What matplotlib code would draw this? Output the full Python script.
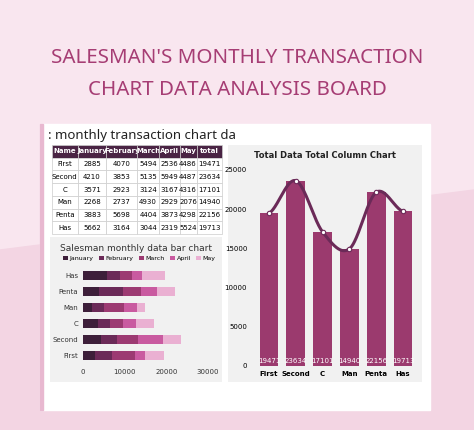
import matplotlib
matplotlib.use("Agg")
import matplotlib.pyplot as plt
from matplotlib.patches import Rectangle, Polygon
import numpy as np

names = ["First", "Second", "C", "Man", "Penta", "Has"]
months = ["January", "February", "March", "April", "May"]
jan = [2885, 4210, 3571, 2268, 3883, 5662]
feb = [4070, 3853, 2923, 2737, 5698, 3164]
mar = [5494, 5135, 3124, 4930, 4404, 3044]
apr = [2536, 5949, 3167, 2929, 3873, 2319]
may = [4486, 4487, 4316, 2076, 4298, 5524]
totals = [19471, 23634, 17101, 14940, 22156, 19713]
month_colors = ["#3d1f3a", "#6b2a58", "#9c3a72", "#c95aa0", "#eab0d2"]

W, H = 474, 430
fig = plt.figure(figsize=(W/100, H/100), dpi=100)
fig.patch.set_facecolor("#f9e6ef")

def ax_px(x0, y0, x1, y1, **kw):
    return fig.add_axes([x0/W, 1-y1/H, (x1-x0)/W, (y1-y0)/H], **kw)

bg = ax_px(0, 0, W, H)
bg.set_xlim(0, W); bg.set_ylim(H, 0); bg.axis("off")
bg.add_patch(Polygon([[0, 250], [W, 190], [W, H], [0, H]], color="#f3d5e3", zorder=0))
bg.add_patch(Rectangle((40, 124), 390, 286, color="white", zorder=1))
bg.add_patch(Rectangle((40, 124), 3, 286, color="#e8b8d0", zorder=2))
bg.text(237, 58, "SALESMAN'S MONTHLY TRANSACTION", ha="center", va="center",
        fontsize=14.8, color="#a63d74", family="Noto Sans")
bg.text(237, 90, "CHART DATA ANALYSIS BOARD", ha="center", va="center",
        fontsize=14.8, color="#a63d74", family="Noto Sans")
bg.text(48, 136, ": monthly transaction chart da", ha="left", va="center",
        fontsize=9.5, fontweight="bold", color="#222", family="Noto Sans")

# table
tab = ax_px(52, 145, 222, 234)
tab.axis("off")
cols = ["Name"] + months + ["total"]
rows = [[names[i], jan[i], feb[i], mar[i], apr[i], may[i], totals[i]] for i in range(6)]
colw = [0.15, 0.17, 0.18, 0.13, 0.12, 0.1, 0.15]
t = tab.table(cellText=[[str(v) for v in r] for r in rows], colLabels=cols,
              loc="center", cellLoc="center", colWidths=colw, bbox=[0, 0, 1, 1])
t.auto_set_font_size(False)
for (r, c), cell in t.get_celld().items():
    cell.set_edgecolor("#cccccc"); cell.set_linewidth(0.5)
    cell.get_text().set_fontsize(5)
    if r == 0:
        cell.set_facecolor("#4a2444")
        cell.get_text().set_color("white"); cell.get_text().set_fontweight("bold")
    else:
        cell.set_facecolor("white")

# stacked bar chart
bpanel = ax_px(50, 237, 222, 382)
bpanel.set_facecolor("#f1f1f1"); bpanel.set_xticks([]); bpanel.set_yticks([])
for s in bpanel.spines.values(): s.set_visible(False)
bpanel.text(0.5, 0.92, "Salesman monthly data bar chart", transform=bpanel.transAxes,
            ha="center", va="center", fontsize=6.5, color="#333")
ax1 = ax_px(83, 267, 208, 364)
ax1.set_facecolor("none")
y = np.arange(len(names))
left = np.zeros(len(names))
for lab, vals, col in zip(months, [jan, feb, mar, apr, may], month_colors):
    ax1.barh(y, vals, left=left, color=col, height=0.55, label=lab)
    left += np.array(vals)
ax1.set_yticks(y); ax1.set_yticklabels(names, fontsize=5, color="#333")
ax1.set_xlim(0, 30000); ax1.set_xticks([0, 10000, 20000, 30000])
ax1.tick_params(axis="x", labelsize=5, colors="#333", length=0)
ax1.tick_params(axis="y", length=0)
for s in ax1.spines.values(): s.set_visible(False)
ax1.legend(loc="lower center", bbox_to_anchor=(0.45, 1.0), ncol=5, fontsize=4.5,
           frameon=False, handlelength=0.8, handletextpad=0.3, columnspacing=0.8)

# column chart
cpanel = ax_px(228, 145, 422, 382)
cpanel.set_facecolor("#f1f1f1"); cpanel.set_xticks([]); cpanel.set_yticks([])
for s in cpanel.spines.values(): s.set_visible(False)
cpanel.text(0.5, 0.955, "Total Data Total Column Chart", transform=cpanel.transAxes,
            ha="center", va="center", fontsize=6, fontweight="bold", color="#222")
ax2 = ax_px(252, 170, 420, 366)
ax2.set_facecolor("none")
x = np.arange(len(names))
ax2.bar(x, totals, width=0.7, color="#9b3a6e")
xs = np.linspace(0, len(names)-1, 300)
def catmull(xp, yp, xs):
    out = []
    for xv in xs:
        i = min(int(xv), len(xp)-2); tt = xv - i
        p0 = yp[max(i-1, 0)]; p1 = yp[i]; p2 = yp[i+1]; p3 = yp[min(i+2, len(yp)-1)]
        out.append(0.5*((2*p1) + (-p0+p2)*tt + (2*p0-5*p1+4*p2-p3)*tt**2 + (-p0+3*p1-3*p2+p3)*tt**3))
    return np.array(out)
ax2.plot(xs, catmull(x, totals, xs), color="#6b2a58", lw=2.2)
ax2.scatter(x, totals, s=10, color="white", edgecolor="#6b2a58", zorder=3, linewidth=0.8)
for xi, v in zip(x, totals):
    ax2.text(xi, 300, str(v), ha="center", va="bottom", fontsize=5, color="white")
ax2.set_ylim(0, 25000); ax2.set_yticks(range(0, 25001, 5000))
ax2.set_xticks(x); ax2.set_xticklabels(names, fontsize=5, fontweight="bold")
ax2.tick_params(axis="y", labelsize=5, length=0)
ax2.tick_params(axis="x", length=0)
for s in ax2.spines.values(): s.set_visible(False)

fig.savefig("out.png", dpi=100, facecolor=fig.get_facecolor())
